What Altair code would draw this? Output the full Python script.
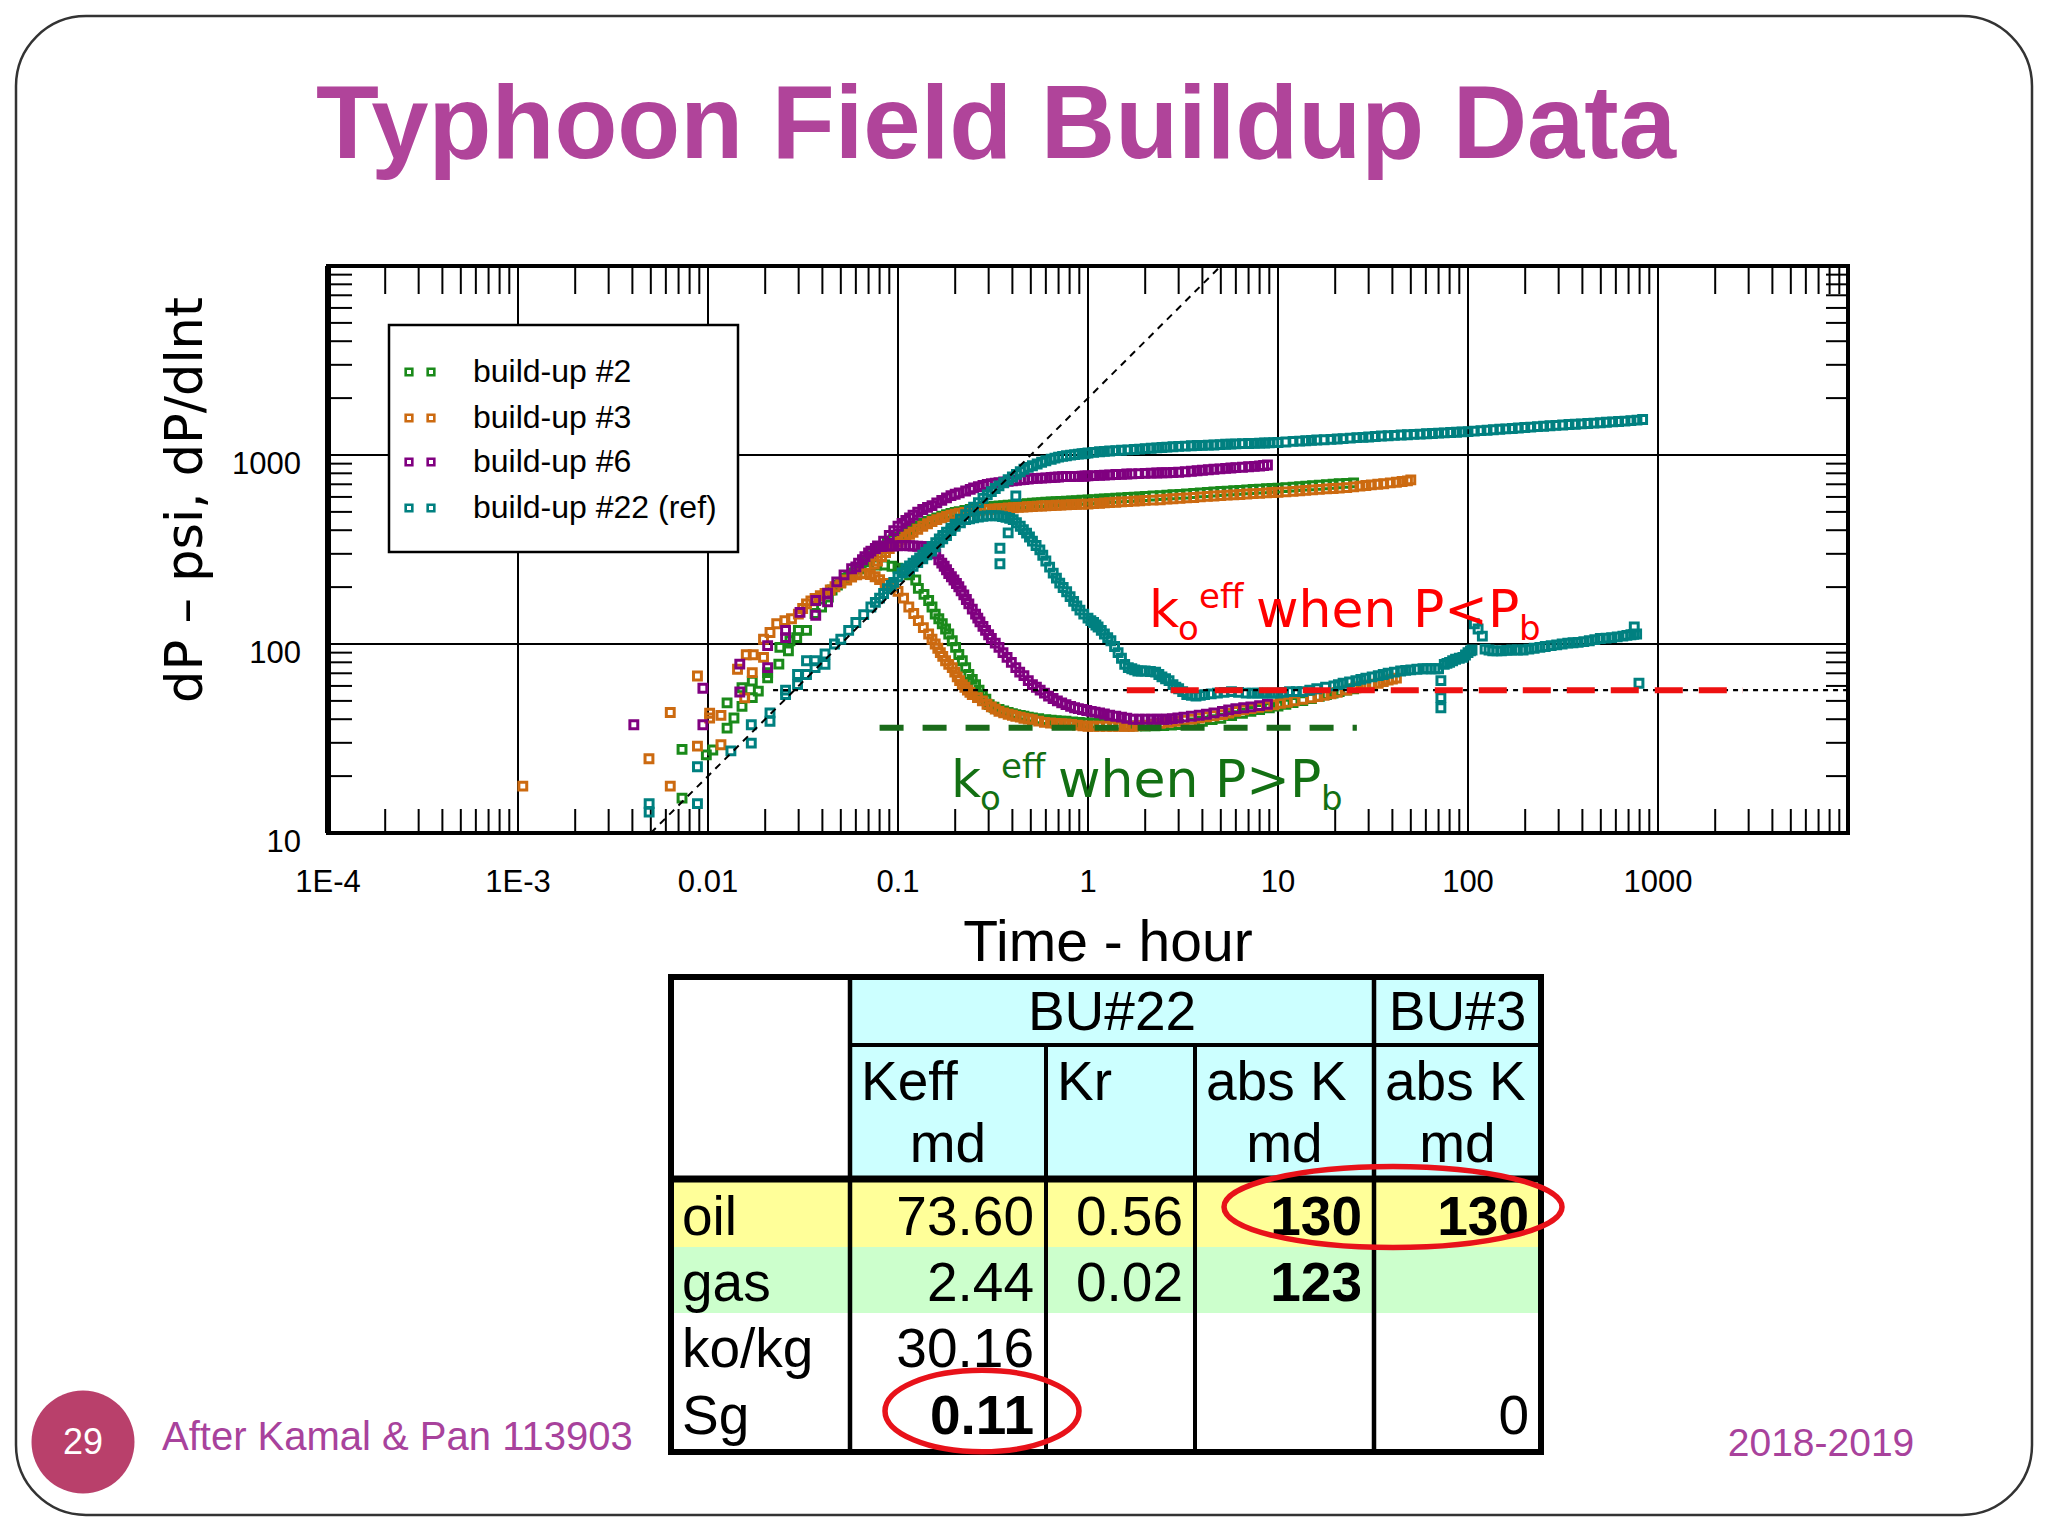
import altair as alt
import pandas as pd

# ---------------------------------------------------------------------------
# Build-up tests: (elapsed time [hour], value [psi])
# *_DP    : pressure change dP
# *_DERIV : Bourdet derivative dP/dln t (early scattered points included)
# ---------------------------------------------------------------------------
BU2_DERIV = [
    (0.0073, 27.7), (0.0073, 15.3), (0.0098, 25.9), (0.0106, 27.5), (0.0126, 35.9),
    (0.0126, 48.8), (0.0137, 40.6), (0.0151, 46.8), (0.0151, 58.7), (0.0171, 52),
    (0.0171, 63.6), (0.0184, 56.3), (0.0206, 66.2), (0.0206, 70.6), (0.0236, 78.2),
    (0.0239, 96), (0.0265, 92), (0.027, 104), (0.0293, 108), (0.0299, 118), (0.033, 118),
    (0.0366, 145), (0.0396, 157), (0.043, 177), (0.045, 193),
    (0.048, 205), (0.053, 222), (0.058, 238), (0.064, 250), (0.07, 258), (0.077, 262),
    (0.085, 262), (0.093, 258), (0.1, 252), (0.107, 245), (0.115, 232), (0.124, 218),
    (0.128, 197), (0.137, 183), (0.145, 170), (0.151, 157), (0.157, 144), (0.164, 136),
    (0.171, 128), (0.178, 120), (0.185, 113), (0.193, 104), (0.201, 96), (0.209, 88),
    (0.218, 81.5), (0.227, 75), (0.236, 69), (0.246, 65), (0.256, 61), (0.267, 57),
    (0.278, 54), (0.29, 51), (0.302, 47.8), (0.32, 46.3), (0.34, 45), (0.36, 44.2),
    (0.38, 43.5), (0.4, 42.8), (0.417, 42.3), (0.44, 41.9), (0.46, 41.5), (0.485, 41),
    (0.51, 40.6), (0.55, 40.2), (0.6, 39.8), (0.64, 39.5), (0.68, 39.3), (0.72, 39.1),
    (0.766, 39), (0.83, 38.7), (0.9, 38.5), (1.0, 38.2), (1.07, 38.1), (1.15, 38),
    (1.25, 37.8), (1.35, 37.5), (1.47, 37.2), (1.6, 37), (1.8, 36.9), (2.0, 36.8),
    (2.25, 36.9), (2.5, 37), (2.75, 37.2), (3.0, 37.5), (3.5, 38.2), (4.0, 39), (4.5, 39.8),
    (5.0, 40.5), (5.7, 41.8), (6.5, 43), (7.2, 44), (8.0, 45), (9.0, 46), (10, 47), (11, 48),
    (12, 49), (13.5, 50.2), (15, 51.5), (16.5, 52.8), (18, 54), (19.5, 55), (21, 56),
    (23, 57), (25, 58),
]
BU2_DP = [
    (0.05, 212), (0.055, 230), (0.06, 250), (0.066, 272), (0.072, 293), (0.08, 318),
    (0.088, 340), (0.094, 355), (0.1, 368), (0.105, 380), (0.11, 390), (0.115, 400),
    (0.12, 410), (0.127, 422), (0.135, 435), (0.143, 445), (0.151, 455), (0.16, 465),
    (0.17, 475), (0.18, 483), (0.19, 490), (0.2, 496), (0.21, 502), (0.225, 509),
    (0.24, 515), (0.255, 520), (0.27, 524), (0.285, 527), (0.3, 530), (0.32, 534),
    (0.34, 537), (0.36, 540), (0.38, 542), (0.405, 545), (0.43, 548), (0.455, 550),
    (0.48, 553), (0.51, 556), (0.54, 558), (0.57, 560), (0.6, 562), (0.64, 564),
    (0.68, 566), (0.72, 568), (0.77, 570), (0.82, 572), (0.87, 574), (0.93, 576),
    (1.0, 578), (1.07, 580), (1.15, 583), (1.22, 585), (1.3, 588), (1.4, 590), (1.5, 593),
    (1.62, 596), (1.75, 598), (1.87, 600), (2.0, 603), (2.2, 607), (2.4, 610), (2.6, 613),
    (2.8, 616), (3.05, 619), (3.3, 622), (3.6, 626), (3.9, 630), (4.25, 633), (4.6, 637),
    (5.0, 641), (5.4, 644), (5.85, 647), (6.3, 650), (6.85, 654), (7.4, 657), (8.0, 660),
    (8.7, 663), (9.3, 666), (10, 668), (11, 672), (12, 676), (13, 680), (14, 684),
    (15.2, 688), (16.5, 692), (18, 696), (19.5, 700), (21, 704), (23, 708), (25, 712),
]

BU3_DERIV = [
    (0.00106, 17.7), (0.00489, 24.7), (0.00633, 43.4), (0.00633, 17.7), (0.0088, 67.7),
    (0.0088, 28.8), (0.0102, 43), (0.0102, 40.6), (0.0117, 41.9), (0.0117, 29.3),
    (0.0143, 73.5), (0.0156, 51.9), (0.0159, 87.7), (0.0173, 87.7), (0.0171, 70.6),
    (0.0196, 106), (0.0212, 115), (0.0196, 84.9),
    (0.023, 128), (0.0254, 133), (0.0275, 136), (0.0299, 144), (0.0315, 154), (0.033, 163),
    (0.0348, 169), (0.0366, 174), (0.039, 180), (0.0413, 185), (0.044, 193), (0.0466, 201),
    (0.05, 210), (0.0537, 218), (0.057, 226), (0.0606, 232), (0.064, 235), (0.0671, 236),
    (0.0715, 233), (0.0758, 227), (0.08, 219), (0.0856, 209), (0.0928, 200), (0.1, 190),
    (0.107, 175), (0.114, 157), (0.121, 145), (0.128, 133), (0.136, 122), (0.145, 113),
    (0.151, 106), (0.157, 100), (0.162, 95), (0.167, 90), (0.172, 86), (0.178, 81.5),
    (0.185, 78), (0.193, 75), (0.199, 71), (0.205, 67), (0.211, 64), (0.218, 61),
    (0.225, 59), (0.232, 57), (0.239, 55.5), (0.246, 54), (0.262, 52), (0.278, 50),
    (0.294, 48), (0.31, 46.5), (0.325, 45.2), (0.34, 44), (0.36, 43.2), (0.38, 42.5),
    (0.4, 42), (0.417, 41.4), (0.44, 41), (0.46, 40.5), (0.485, 40.1), (0.51, 39.8),
    (0.55, 39.1), (0.59, 38.5), (0.635, 38.2), (0.68, 38), (0.72, 37.9), (0.766, 37.8),
    (0.82, 37.5), (0.88, 37.2), (0.94, 36.9), (1.0, 36.7), (1.07, 36.7), (1.15, 36.7),
    (1.25, 36.7), (1.35, 36.7), (1.45, 36.7), (1.55, 36.7), (1.65, 36.7), (1.73, 36.7),
    (1.86, 37), (2.0, 37.2), (2.2, 37.6), (2.4, 38), (2.65, 38.5), (2.97, 39), (3.2, 39.5),
    (3.5, 40), (3.85, 40.6), (4.2, 41.2), (4.6, 41.7), (5.1, 42.3), (5.5, 43.1), (6.0, 44),
    (6.6, 44.8), (7.2, 45.5), (7.9, 46.2), (8.76, 46.9), (9.5, 47.7), (10.3, 48.5),
    (11.2, 49.2), (12.2, 50), (13.5, 51), (15, 51.9), (16.2, 52.7), (17.5, 53.5), (19, 54.5),
    (20.5, 55.5), (23, 57), (25.7, 58.7), (27.3, 59.6), (29, 60.5), (31.3, 61.2), (33.7, 62),
    (35.8, 63.2), (38, 64.5), (40, 65.2), (42, 66),
]
BU3_DP = [
    (0.075, 265), (0.078, 275), (0.082, 290), (0.086, 305), (0.09, 320), (0.095, 333),
    (0.1, 345), (0.105, 358), (0.11, 370), (0.115, 380), (0.12, 390), (0.127, 405),
    (0.135, 420), (0.143, 433), (0.151, 445), (0.16, 455), (0.17, 465), (0.18, 473),
    (0.19, 480), (0.2, 486), (0.21, 492), (0.225, 497), (0.24, 502), (0.255, 506),
    (0.27, 510), (0.285, 513), (0.3, 515), (0.32, 518), (0.34, 520), (0.36, 522),
    (0.38, 524), (0.405, 526), (0.43, 528), (0.455, 530), (0.48, 532), (0.51, 534),
    (0.54, 536), (0.57, 537), (0.6, 539), (0.64, 540), (0.68, 542), (0.72, 543),
    (0.77, 545), (0.82, 546), (0.87, 548), (0.93, 549), (1.0, 550), (1.07, 553),
    (1.15, 555), (1.22, 558), (1.3, 560), (1.4, 562), (1.5, 565), (1.62, 567), (1.75, 570),
    (1.87, 572), (2.0, 575), (2.2, 577), (2.4, 580), (2.6, 584), (2.8, 587), (3.05, 590),
    (3.3, 593), (3.6, 596), (3.9, 600), (4.25, 604), (4.6, 607), (5.0, 610), (5.4, 613),
    (5.85, 615), (6.3, 618), (6.85, 622), (7.4, 625), (8.0, 627), (8.7, 630), (9.3, 633),
    (10, 635), (11, 638), (12, 642), (13, 646), (14, 650), (15.2, 654), (16.5, 658),
    (18, 662), (19.5, 665), (21, 668), (23, 672), (25, 678), (27, 684), (29, 690),
    (31, 695), (33.5, 700), (36, 705), (39, 712), (42, 718), (45, 724), (48, 730), (50, 738),
]

BU6_DERIV = [
    (0.00407, 37.4), (0.0094, 58.3), (0.0094, 37.4), (0.0147, 55.7), (0.0147, 78.2),
    (0.0206, 98), (0.0206, 75), (0.0256, 118), (0.0256, 108), (0.0305, 147), (0.0369, 170),
    (0.0369, 142), (0.0426, 186), (0.0426, 167), (0.0476, 213),
    (0.06, 256), (0.065, 279), (0.07, 303), (0.076, 320), (0.082, 328), (0.088, 330),
    (0.093, 330), (0.1, 331), (0.105, 332), (0.11, 332), (0.115, 331), (0.12, 330),
    (0.127, 329), (0.135, 328), (0.143, 325), (0.151, 318), (0.158, 300), (0.164, 279),
    (0.17, 268), (0.175, 258), (0.18, 247), (0.185, 236), (0.191, 227), (0.197, 218),
    (0.203, 209), (0.209, 201), (0.215, 191), (0.222, 182), (0.229, 172), (0.236, 163),
    (0.246, 153), (0.256, 144), (0.263, 137), (0.27, 131), (0.28, 124), (0.289, 118),
    (0.3, 112), (0.31, 107), (0.325, 101), (0.34, 96), (0.357, 90), (0.375, 85),
    (0.395, 80), (0.417, 75), (0.437, 71), (0.46, 68), (0.485, 64), (0.51, 61),
    (0.535, 59), (0.56, 57), (0.59, 55), (0.62, 53), (0.655, 51.5), (0.69, 50),
    (0.727, 48.8), (0.766, 47.8), (0.81, 46.8), (0.85, 46), (0.89, 45.5), (0.935, 45),
    (0.985, 44.5), (1.04, 44), (1.09, 43.6), (1.15, 43.2), (1.22, 42.6), (1.3, 42),
    (1.4, 41.5), (1.5, 41), (1.6, 40.5), (1.73, 40), (1.86, 40), (2.0, 40), (2.15, 40),
    (2.3, 40), (2.45, 40), (2.6, 40), (2.78, 40.3), (2.97, 40.6), (3.2, 41), (3.5, 41.5),
    (3.85, 42), (4.2, 42.5), (4.6, 43.2), (5.1, 44), (5.5, 44.8), (6.0, 45.5), (6.6, 46),
    (7.2, 46.5), (8.0, 47.2), (8.8, 48),
]
BU6_DP = [
    (0.052, 232), (0.057, 250), (0.062, 268), (0.067, 290), (0.072, 310), (0.078, 330),
    (0.084, 350), (0.09, 375), (0.095, 398), (0.1, 420), (0.105, 435), (0.11, 450),
    (0.115, 465), (0.12, 480), (0.127, 498), (0.135, 515), (0.143, 528), (0.151, 540),
    (0.16, 558), (0.17, 575), (0.18, 593), (0.19, 610), (0.2, 620), (0.21, 630),
    (0.227, 645), (0.24, 658), (0.25, 670), (0.265, 680), (0.28, 690), (0.295, 698),
    (0.31, 705), (0.325, 710), (0.34, 714), (0.36, 720), (0.38, 725), (0.4, 730),
    (0.42, 735), (0.44, 738), (0.46, 742), (0.485, 746), (0.51, 750), (0.54, 752),
    (0.57, 755), (0.6, 757), (0.64, 760), (0.67, 762), (0.7, 765), (0.735, 768),
    (0.77, 770), (0.81, 770), (0.85, 771), (0.89, 771), (0.93, 772), (0.965, 774),
    (1.0, 775), (1.07, 778), (1.15, 780), (1.22, 782), (1.3, 785), (1.4, 788), (1.5, 790),
    (1.6, 793), (1.7, 795), (1.85, 797), (2.0, 800), (2.15, 802), (2.3, 803), (2.45, 805),
    (2.6, 806), (2.8, 808), (3.0, 810), (3.25, 815), (3.5, 820), (3.75, 825), (4.0, 830),
    (4.3, 835), (4.6, 840), (4.95, 845), (5.3, 850), (5.65, 854), (6.0, 858), (6.5, 862),
    (7.0, 866), (7.5, 870), (8.0, 875), (8.4, 880), (8.8, 885),
]

BU22_DERIV = [
    (0.0049, 14.3), (0.0049, 12.9), (0.0088, 22.4), (0.0088, 14.3), (0.0132, 27.2),
    (0.0169, 37.4), (0.0169, 29.9), (0.0212, 43.2), (0.0212, 39.0), (0.0256, 57),
    (0.0256, 54), (0.0296, 69), (0.0296, 61), (0.033, 69), (0.033, 81.5), (0.0366, 81.5),
    (0.0366, 75), (0.0413, 88.5), (0.0413, 78), (0.0463, 100),
    (0.11, 240), (0.115, 249), (0.12, 258), (0.127, 270), (0.135, 282), (0.142, 296),
    (0.15, 310), (0.157, 327), (0.165, 345), (0.172, 360), (0.18, 375), (0.19, 398),
    (0.2, 420), (0.213, 438), (0.227, 455), (0.238, 460), (0.25, 465), (0.265, 470),
    (0.28, 474), (0.295, 476), (0.31, 478), (0.325, 477), (0.34, 476), (0.355, 472),
    (0.37, 468), (0.387, 462), (0.404, 455), (0.42, 438), (0.44, 420), (0.457, 403),
    (0.475, 386), (0.492, 368), (0.51, 350), (0.533, 332), (0.558, 315), (0.578, 295),
    (0.6, 275), (0.628, 255), (0.656, 237), (0.682, 223), (0.71, 210), (0.74, 199),
    (0.772, 189), (0.805, 178), (0.84, 168), (0.873, 159), (0.907, 151), (0.95, 144),
    (1.0, 137), (1.035, 133), (1.07, 130), (1.1, 126), (1.13, 123), (1.175, 118),
    (1.22, 113), (1.27, 108), (1.32, 104), (1.38, 97), (1.44, 90), (1.5, 84), (1.56, 78),
    (1.63, 75), (1.7, 74), (1.76, 73), (1.83, 72), (1.91, 72), (2.0, 72), (2.13, 71.5),
    (2.27, 71), (2.36, 69), (2.45, 67), (2.56, 65.5), (2.67, 64), (2.8, 61), (2.9, 59),
    (3.0, 58), (3.15, 56), (3.31, 54), (3.5, 53.5), (3.7, 53), (3.9, 53.5), (4.11, 54),
    (4.45, 54.5), (4.8, 55), (5.2, 55.5), (5.69, 56), (6.2, 55.5), (6.8, 55), (7.3, 55),
    (7.8, 55), (8.3, 55), (8.78, 55), (9.4, 55), (10, 55), (10.7, 55.5), (11.5, 56),
    (12.5, 56), (13.5, 56), (14.7, 57), (16, 58), (17.8, 59), (19.7, 60), (20.8, 61),
    (22, 62), (23.8, 63), (25.7, 64), (27.3, 65), (29, 66), (31.3, 67), (33.7, 68),
    (35.8, 69), (38, 70), (41, 71), (44.2, 72), (47, 72.5), (50, 73), (53.8, 73.5),
    (57.9, 74), (61, 74), (64, 74), (67, 74), (70, 74), (72, 64), (72, 52), (72, 46),
    (75, 78), (77.5, 79), (80, 80), (83, 81.5), (86, 83), (90, 84), (94, 85), (97, 87.5),
    (100, 90), (103, 92), (105, 93), (108, 128), (113, 120), (119, 110), (123, 94),
    (129, 93), (135, 92), (142, 92), (150, 92), (160, 92.5), (170, 93), (182, 93),
    (195, 93), (209, 94), (223, 95), (239, 96), (255, 97), (274, 98), (293, 99),
    (313, 100), (335, 101), (357, 101.5), (380, 102), (407, 103), (435, 104),
    (465, 105.5), (497, 107), (533, 107.5), (570, 108), (610, 109), (653, 110),
    (686, 111), (720, 112), (745, 112.5), (772, 113), (750, 123), (794, 62),
    (0.344, 321), (0.344, 266), (0.38, 387), (0.417, 607),
]
BU22_DP = [
    (0.05, 106), (0.055, 118), (0.06, 130), (0.066, 143), (0.072, 157), (0.076, 166),
    (0.08, 175), (0.084, 185), (0.088, 196), (0.092, 204), (0.095, 212), (0.1, 227),
    (0.105, 238), (0.11, 250), (0.115, 259), (0.12, 268), (0.125, 276), (0.13, 285),
    (0.135, 295), (0.14, 305), (0.145, 316), (0.151, 328), (0.158, 344), (0.165, 360),
    (0.172, 375), (0.18, 390), (0.19, 410), (0.2, 430), (0.213, 457), (0.227, 484),
    (0.238, 507), (0.25, 530), (0.265, 560), (0.28, 590), (0.295, 615), (0.31, 640),
    (0.325, 665), (0.34, 686), (0.36, 713), (0.38, 740), (0.4, 765), (0.42, 790),
    (0.44, 815), (0.46, 840), (0.485, 860), (0.51, 877), (0.54, 896), (0.57, 915),
    (0.6, 932), (0.64, 950), (0.67, 963), (0.7, 975), (0.735, 983), (0.77, 991),
    (0.81, 998), (0.85, 1005), (0.89, 1010), (0.93, 1015), (0.965, 1020), (1.0, 1025),
    (1.07, 1033), (1.15, 1040), (1.22, 1045), (1.3, 1050), (1.4, 1055), (1.5, 1060),
    (1.62, 1065), (1.75, 1070), (1.87, 1075), (2.0, 1080), (2.15, 1085), (2.3, 1090),
    (2.45, 1095), (2.6, 1100), (2.8, 1105), (3.0, 1110), (3.25, 1115), (3.5, 1120),
    (3.75, 1122), (4.0, 1125), (4.3, 1128), (4.6, 1130), (4.95, 1135), (5.3, 1140),
    (5.65, 1142), (6.0, 1145), (6.5, 1148), (7.0, 1150), (7.5, 1152), (8.0, 1155),
    (8.5, 1158), (9.0, 1160), (9.5, 1162), (10, 1165), (11, 1172), (12, 1180), (13, 1185),
    (14, 1190), (15, 1195), (16, 1200), (17.5, 1205), (19, 1210), (20.5, 1215), (22, 1220),
    (24, 1228), (26, 1235), (28, 1240), (30, 1245), (32.5, 1252), (35, 1260), (38, 1265),
    (41, 1270), (44.5, 1275), (48, 1280), (52, 1285), (56, 1290), (60.5, 1295), (65, 1300),
    (70, 1305), (75, 1310), (81, 1315), (87, 1320), (93, 1325), (100, 1330), (108, 1338),
    (117, 1345), (126, 1352), (136, 1360), (147, 1368), (158, 1375), (171, 1382),
    (184, 1390), (199, 1398), (214, 1405), (232, 1412), (250, 1420), (270, 1428),
    (290, 1435), (315, 1442), (340, 1450), (367, 1455), (395, 1460), (427, 1468),
    (460, 1475), (497, 1482), (535, 1490), (577, 1497), (620, 1505), (670, 1512),
    (720, 1520), (775, 1530), (830, 1540),
]

SERIES = ["build-up #2", "build-up #3", "build-up #6", "build-up #22 (ref)"]
SERIES_COLORS = ["#1A8A1A", "#CC6A10", "#800080", "#008080"]
SERIES_DATA = [BU2_DERIV + BU2_DP, BU3_DERIV + BU3_DP, BU6_DERIV + BU6_DP,
               BU22_DERIV + BU22_DP]

# Axis ticks
X_TICKS = [1e-4, 1e-3, 0.01, 0.1, 1, 10, 100, 1000]
X_TICK_LABELS = ["1E-4", "1E-3", "0.01", "0.1", "1", "10", "100", "1000"]
Y_TICKS = [10, 100, 1000]
Y_TICK_LABELS = ["10", "100", "1000"]

# Straight guide lines: (time, psi) end points
UNIT_SLOPE = [(0.005, 10), (5.0, 10000)]
DOTTED_LEVEL = [(0.022, 57), (10000, 57)]
KO_BELOW_PB = [(1.6, 57), (2800, 57)]
KO_ABOVE_PB = [(0.08, 36), (26, 36)]

# Summary table
GROUP_HEADERS = ["BU#22", "BU#3"]
COL_HEADERS = [("Keff", "md"), ("Kr", ""), ("abs K", "md"), ("abs K", "md")]
ROW_LABELS = ["oil", "gas", "ko/kg", "Sg"]
CELL_VALUES = [
    ["73.60", "0.56", "130", "130"],
    ["2.44", "0.02", "123", ""],
    ["30.16", "", "", ""],
    ["0.11", "", "", "0"],
]
BOLD_CELLS = [(0, 2), (0, 3), (1, 2), (3, 0)]

TITLE = "Typhoon Field Buildup Data"
SOURCE = "After Kamal & Pan 113903"
YEARS = "2018-2019"
SLIDE_NO = "29"

# ---------------------------------------------------------------------------
# Layout (pixels, measured from the plot area's top-left corner)
# ---------------------------------------------------------------------------
W, H = 1520, 567
PAD = {"left": 328, "top": 266, "right": 200, "bottom": 703}
SANS = "Liberation Sans"
DEJAVU = "DejaVu Sans"
MAGENTA = "#B0449A"
RED = "#FF0000"
DKGREEN = "#137013"

XS = alt.Scale(type="log", domain=[1e-4, 1e4], nice=False)
YS = alt.Scale(type="log", domain=[10, 1e4], nice=False)
X_GRID = [10.0 ** e for e in range(-3, 4)]
Y_GRID = [100.0, 1000.0]
X_MINOR = [k * 10.0 ** e for e in range(-4, 4) for k in range(2, 10)]
Y_MINOR = [k * 10.0 ** e for e in range(1, 4) for k in range(2, 10)]

TX = [343, 522, 718, 867, 1046, 1213]          # table column edges
TY = [711, 779, 913, 981, 1047, 1114, 1186]    # table row edges
ROW_BASE = [TY[2] + 56, TY[3] + 54, TY[4] + 54, TY[5] + 54]
ROW_FILLS = ["#FFFF99", "#CCFFCC"]
HEADER_FILL = "#CCFFFF"

ONE = pd.DataFrame({"k": [0]})

tx = alt.X("t:Q", scale=XS, axis=None)
ty = alt.Y("v:Q", scale=YS, axis=None)


def px(field):
    return alt.X(f"{field}:Q", scale=None, axis=None)


def py(field):
    return alt.Y(f"{field}:Q", scale=None, axis=None)


def text_layer(rows, **style):
    df = pd.DataFrame(rows, columns=["x", "y", "text"])
    return alt.Chart(df).mark_text(**style).encode(x=px("x"), y=py("y"), text="text:N")


def label(x, y, s, **style):
    return alt.Chart(ONE).mark_text(**style).encode(
        x=alt.value(x), y=alt.value(y), text=alt.value(s))


layers = []

# slide frame
layers.append(alt.Chart(ONE).mark_rect(
    fillOpacity=0, stroke="#333333", strokeWidth=2.5, cornerRadius=70).encode(
    x=alt.value(-312), x2=alt.value(1704), y=alt.value(-250), y2=alt.value(1249)))

# decade grid
layers.append(alt.Chart(pd.DataFrame({"t": X_GRID})).mark_rule(
    color="black", strokeWidth=2).encode(x=tx, y=alt.value(0), y2=alt.value(H)))
layers.append(alt.Chart(pd.DataFrame({"v": Y_GRID})).mark_rule(
    color="black", strokeWidth=2).encode(y=ty, x=alt.value(0), x2=alt.value(W)))

# inward minor ticks on all four sides
xm = pd.DataFrame({"t": X_MINOR})
ym = pd.DataFrame({"v": Y_MINOR})
layers.append(alt.Chart(xm).mark_rule(color="black", strokeWidth=2).encode(
    x=tx, y=alt.value(H), y2=alt.value(H - 24)))
layers.append(alt.Chart(xm).mark_rule(color="black", strokeWidth=2).encode(
    x=tx, y=alt.value(0), y2=alt.value(28)))
layers.append(alt.Chart(ym).mark_rule(color="black", strokeWidth=2).encode(
    y=ty, x=alt.value(0), x2=alt.value(24)))
layers.append(alt.Chart(ym).mark_rule(color="black", strokeWidth=2).encode(
    y=ty, x=alt.value(W), x2=alt.value(W - 22)))
# heavier left frame edge
layers.append(alt.Chart(ONE).mark_rule(color="black", strokeWidth=6).encode(
    x=alt.value(0), y=alt.value(0), y2=alt.value(H)))

# tick labels
layers.append(alt.Chart(pd.DataFrame({"t": X_TICKS, "s": X_TICK_LABELS})).mark_text(
    font=SANS, fontSize=31, align="center", baseline="alphabetic", color="black").encode(
    x=tx, y=alt.value(H + 59), text="s:N"))
layers.append(alt.Chart(pd.DataFrame({"v": Y_TICKS, "s": Y_TICK_LABELS})).mark_text(
    font=SANS, fontSize=31, align="right", baseline="alphabetic", dy=19,
    color="black").encode(y=ty, x=alt.value(-27), text="s:N"))

# data points
rows = []
for name, pts in zip(SERIES, SERIES_DATA):
    rows += [{"series": name, "t": t, "v": v} for t, v in pts]
pts_df = pd.DataFrame(rows)
layers.append(alt.Chart(pts_df).mark_point(
    shape="square", filled=False, size=62, strokeWidth=3, opacity=1).encode(
    x=tx, y=ty,
    color=alt.Color("series:N", scale=alt.Scale(domain=SERIES, range=SERIES_COLORS),
                    legend=None)))


def guide(pts, **style):
    df = pd.DataFrame(pts, columns=["t", "v"])
    return alt.Chart(df).mark_line(**style).encode(x=tx, y=ty)


layers.append(guide(UNIT_SLOPE, color="black", strokeWidth=2, strokeDash=[7, 6]))
layers.append(guide(DOTTED_LEVEL, color="black", strokeWidth=2.2, strokeDash=[5, 5]))
layers.append(guide(KO_ABOVE_PB, color="#1A6B1A", strokeWidth=6, strokeDash=[24, 19]))
layers.append(guide(KO_BELOW_PB, color="#EE1111", strokeWidth=6, strokeDash=[28, 16]))

# legend
layers.append(alt.Chart(ONE).mark_rect(fill="white", stroke="black", strokeWidth=2.5).encode(
    x=alt.value(61), x2=alt.value(410), y=alt.value(59), y2=alt.value(286)))
LEG_Y = [106, 152, 196, 242]
leg_pts = pd.DataFrame([{"x": x, "y": y, "c": c}
                        for y, c in zip(LEG_Y, SERIES_COLORS) for x in (81, 103)])
layers.append(alt.Chart(leg_pts).mark_point(
    shape="square", filled=False, size=44, strokeWidth=2.6, opacity=1).encode(
    x=px("x"), y=py("y"), color=alt.Color("c:N", scale=None)))
layers.append(text_layer([(145, y, s) for y, s in zip(LEG_Y, SERIES)],
                         font=SANS, fontSize=32, align="left", baseline="middle",
                         color="black"))

# k_o^eff annotations
big = dict(font=DEJAVU, fontSize=52, align="left", baseline="alphabetic")
small = dict(font=DEJAVU, fontSize=34, align="left", baseline="alphabetic")
for color, (x0, y0), rel in [(RED, (821, 361), "<"), (DKGREEN, (623, 531), ">")]:
    layers.append(label(x0, y0, "k", color=color, **big))
    layers.append(label(x0 + 29, y0 + 13, "o", color=color, **small))
    layers.append(label(x0 + 50, y0 - 19, "eff", color=color, **small))
    layers.append(label(x0 + 107, y0, f"when P{rel}P", color=color, **big))
    layers.append(label(x0 + 370, y0 + 13, "b", color=color, **small))

# titles
layers.append(label(668, -108, TITLE, font=SANS, fontSize=103, fontWeight="bold",
                    color=MAGENTA, align="center", baseline="alphabetic"))
layers.append(label(-141, 234, "dP \u2013 psi, dP/dlnt", font=DEJAVU, fontSize=51,
                    angle=270, align="center", baseline="middle", color="black"))
layers.append(label(780, 695, "Time - hour", font=SANS, fontSize=57, align="center",
                    baseline="alphabetic", color="black"))

# table: cell fills
fills = pd.DataFrame([
    {"x": TX[1], "x2": TX[5], "y": TY[0], "y2": TY[2], "c": HEADER_FILL},
    {"x": TX[0], "x2": TX[5], "y": TY[2], "y2": TY[3], "c": ROW_FILLS[0]},
    {"x": TX[0], "x2": TX[5], "y": TY[3], "y2": TY[4], "c": ROW_FILLS[1]},
])
layers.append(alt.Chart(fills).mark_rect().encode(
    x=px("x"), x2="x2:Q", y=py("y"), y2="y2:Q", fill=alt.Fill("c:N", scale=None)))

# table: ruling
rules = pd.DataFrame([
    {"x": TX[1], "x2": TX[1], "y": TY[0], "y2": TY[6], "w": 4.5},
    {"x": TX[2], "x2": TX[2], "y": TY[1], "y2": TY[6], "w": 4},
    {"x": TX[3], "x2": TX[3], "y": TY[1], "y2": TY[6], "w": 4},
    {"x": TX[4], "x2": TX[4], "y": TY[0], "y2": TY[6], "w": 4.5},
    {"x": TX[1], "x2": TX[5], "y": TY[1], "y2": TY[1], "w": 4},
    {"x": TX[0], "x2": TX[5], "y": TY[2], "y2": TY[2], "w": 7},
])
layers.append(alt.Chart(rules).mark_rule(color="black").encode(
    x=px("x"), x2="x2:Q", y=py("y"), y2="y2:Q",
    strokeWidth=alt.StrokeWidth("w:Q", scale=None)))
layers.append(alt.Chart(ONE).mark_rect(fillOpacity=0, stroke="black", strokeWidth=6).encode(
    x=alt.value(TX[0]), x2=alt.value(TX[5]), y=alt.value(TY[0]), y2=alt.value(TY[6])))

# table: text
tfont = dict(font=SANS, fontSize=55, baseline="alphabetic", color="black")
centered = [((TX[1] + TX[4]) / 2, TY[0] + 53, GROUP_HEADERS[0]),
            ((TX[4] + TX[5]) / 2, TY[0] + 53, GROUP_HEADERS[1])]
left = []
for i, (top, bottom) in enumerate(COL_HEADERS):
    left.append((TX[i + 1] + 11, TY[1] + 55, top))
    if bottom:
        centered.append(((TX[i + 1] + TX[i + 2]) / 2, TY[1] + 117, bottom))
for r, name in enumerate(ROW_LABELS):
    left.append((TX[0] + 11, ROW_BASE[r], name))
plain, bold = [], []
for r, row in enumerate(CELL_VALUES):
    for c, val in enumerate(row):
        if val:
            (bold if (r, c) in BOLD_CELLS else plain).append((TX[c + 2] - 12, ROW_BASE[r], val))
layers.append(text_layer(centered, align="center", **tfont))
layers.append(text_layer(left, align="left", **tfont))
layers.append(text_layer(plain, align="right", **tfont))
layers.append(text_layer(bold, align="right", fontWeight="bold", **tfont))

# highlight ellipses
ELLIPSE_WIDE = "M -1 0 A 1 0.24 0 1 1 1 0 A 1 0.24 0 1 1 -1 0 Z"
ELLIPSE_ROUND = "M -1 0 A 1 0.42 0 1 1 1 0 A 1 0.42 0 1 1 -1 0 Z"
layers.append(alt.Chart(ONE).mark_point(
    shape=ELLIPSE_WIDE, size=338 ** 2, filled=False, stroke="#E8121A", strokeWidth=5.5,
    opacity=1).encode(x=alt.value(1065), y=alt.value(941)))
layers.append(alt.Chart(ONE).mark_point(
    shape=ELLIPSE_ROUND, size=194 ** 2, filled=False, stroke="#E8121A", strokeWidth=5.5,
    opacity=1).encode(x=alt.value(654), y=alt.value(1145)))

# footer
layers.append(alt.Chart(ONE).mark_point(
    shape="circle", filled=True, size=103 ** 2, color="#B9406B", opacity=1).encode(
    x=alt.value(-245), y=alt.value(1176)))
layers.append(label(-245, 1177, SLIDE_NO, font=SANS, fontSize=36, color="white",
                    align="center", baseline="middle"))
layers.append(label(-166, 1184, SOURCE, font=SANS, fontSize=40, color="#A8429C",
                    align="left", baseline="alphabetic"))
layers.append(label(1493, 1190, YEARS, font=SANS, fontSize=39, color="#A8429C",
                    align="center", baseline="alphabetic"))

chart = alt.layer(*layers).properties(
    width=W, height=H, padding=PAD,
    autosize=alt.AutoSizeParams(type="none"), background="white",
).configure_view(stroke="black", strokeWidth=4)

chart.save("out.html", embed_options={"renderer": "svg", "actions": False})
